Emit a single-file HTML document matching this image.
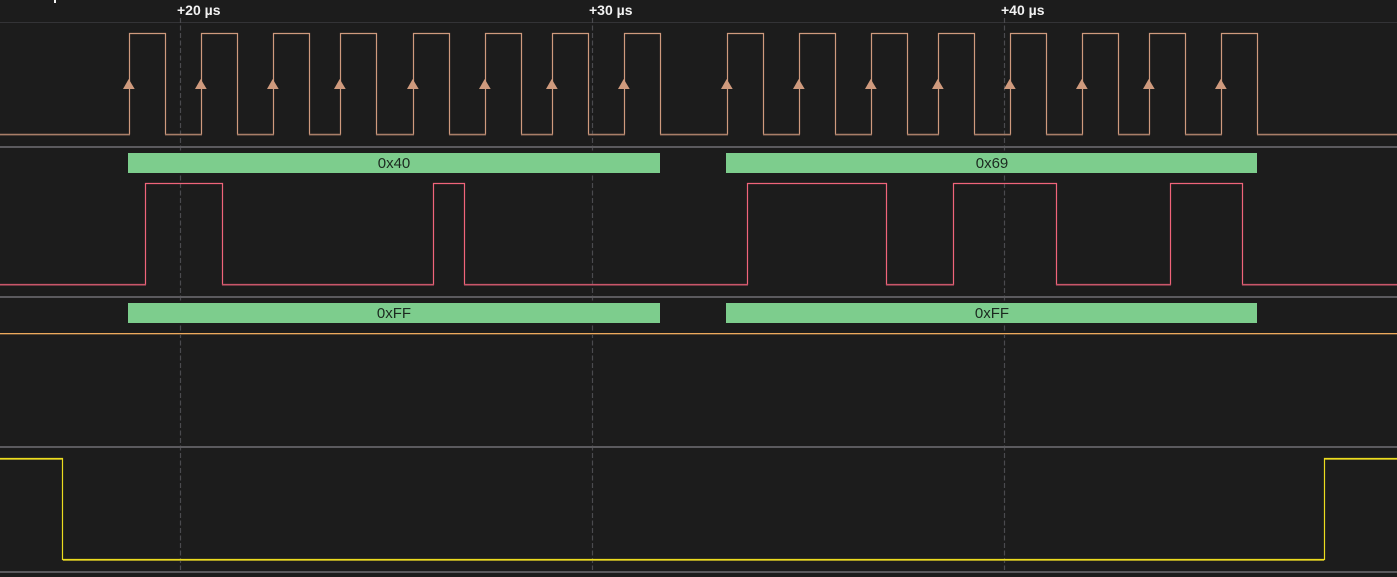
<!DOCTYPE html>
<html><head><meta charset="utf-8"><style>
html,body{margin:0;padding:0;background:#1c1c1c;width:1397px;height:577px;overflow:hidden}
svg{display:block}
.t{font:bold 14px "Liberation Sans",sans-serif;fill:#f2f2f2}
.l{font:15px "Liberation Sans",sans-serif;fill:#1c2a20;text-anchor:middle}
</style></head><body>
<svg width="1397" height="577" viewBox="0 0 1397 577" xmlns="http://www.w3.org/2000/svg">
<rect width="1397" height="577" fill="#1c1c1c"/>
<rect x="0" y="22" width="1397" height="1" fill="#333336"/>
<rect x="54" y="0" width="2" height="3" fill="#f2f2f2"/>
<g stroke="#4a4a4e" stroke-width="1.2" stroke-dasharray="5 2.5" fill="none">
<path d="M180.5 18V570M592.5 18V570M1004.5 18V570"/>
</g>
<g fill="#5b5a5e">
<rect x="0" y="146" width="1397" height="2"/>
<rect x="0" y="296" width="1397" height="2"/>
<rect x="0" y="446" width="1397" height="2"/>
<rect x="0" y="571" width="1397" height="2"/>
</g>
<text class="t" x="177" y="15">+20 µs</text>
<text class="t" x="589" y="15">+30 µs</text>
<text class="t" x="1001" y="15">+40 µs</text>
<path fill="none" stroke="#cf9a7d" stroke-width="1.2" d="M129.5 134.5V33.5H165.5V134.5M201.5 134.5V33.5H237.5V134.5M273.5 134.5V33.5H309.5V134.5M340.5 134.5V33.5H376.5V134.5M413.5 134.5V33.5H449.5V134.5M485.5 134.5V33.5H521.5V134.5M552.5 134.5V33.5H588.5V134.5M624.5 134.5V33.5H660.5V134.5M727.5 134.5V33.5H763.5V134.5M799.5 134.5V33.5H835.5V134.5M871.5 134.5V33.5H907.5V134.5M938.5 134.5V33.5H974.5V134.5M1010.5 134.5V33.5H1046.5V134.5M1082.5 134.5V33.5H1118.5V134.5M1149.5 134.5V33.5H1185.5V134.5M1221.5 134.5V33.5H1257.5V134.5"/>
<path fill="none" stroke="#a87e68" stroke-width="1.6" d="M0 134.6H130M165 134.6H202M237 134.6H274M309 134.6H341M376 134.6H414M449 134.6H486M521 134.6H553M588 134.6H625M660 134.6H728M763 134.6H800M835 134.6H872M907 134.6H939M974 134.6H1011M1046 134.6H1083M1118 134.6H1150M1185 134.6H1222M1257 134.6H1397"/>
<g fill="#cf9a7d">
<path d="M128.7 79L134.7 89H123Z"/><path d="M200.7 79L206.7 89H195Z"/><path d="M272.7 79L278.7 89H267Z"/><path d="M339.7 79L345.7 89H334Z"/><path d="M412.7 79L418.7 89H407Z"/><path d="M484.7 79L490.7 89H479Z"/><path d="M551.7 79L557.7 89H546Z"/><path d="M623.7 79L629.7 89H618Z"/><path d="M726.7 79L732.7 89H721Z"/><path d="M798.7 79L804.7 89H793Z"/><path d="M870.7 79L876.7 89H865Z"/><path d="M937.7 79L943.7 89H932Z"/><path d="M1009.7 79L1015.7 89H1004Z"/><path d="M1081.7 79L1087.7 89H1076Z"/><path d="M1148.7 79L1154.7 89H1143Z"/><path d="M1220.7 79L1226.7 89H1215Z"/>
</g>
<g fill="#7dcd8d">
<rect x="128" y="153" width="532" height="20"/>
<rect x="726" y="153" width="531" height="20"/>
<rect x="128" y="303" width="532" height="20"/>
<rect x="726" y="303" width="531" height="20"/>
</g>
<text class="l" x="394" y="168">0x40</text>
<text class="l" x="992" y="168">0x69</text>
<text class="l" x="394" y="318">0xFF</text>
<text class="l" x="992" y="318">0xFF</text>
<path fill="none" stroke="#f0647a" stroke-width="1.2" d="M145.5 285V183.5H222.5V285M433.5 285V183.5H464.5V285M747.5 285V183.5H886.5V285M953.5 285V183.5H1056.5V285M1170.5 285V183.5H1242.5V285"/>
<path fill="none" stroke="#c9566a" stroke-width="1.6" d="M0 284.7H146M222 284.7H434M464 284.7H748M886 284.7H954M1056 284.7H1171M1242 284.7H1397"/>
<rect x="0" y="333" width="1397" height="1" fill="#eda95c"/>
<rect x="0" y="334" width="1397" height="1" fill="#5f4a32"/>
<path fill="none" stroke="#ecdc1e" stroke-width="1.2" d="M0 458.5H62.5V559.5H1324.5V458.5H1397"/>
<path fill="none" stroke="#a89c22" stroke-width="1" d="M0 459.5H62M63 560.5H1324M1325 459.5H1397"/>
</svg>
</body></html>
